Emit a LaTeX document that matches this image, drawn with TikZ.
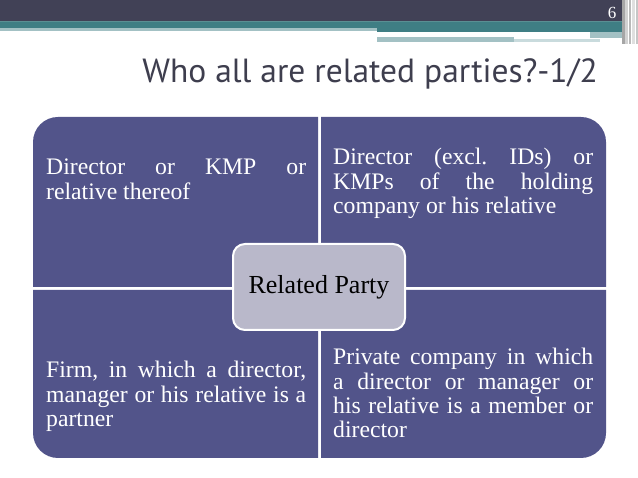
\documentclass[tikz,border=0pt]{standalone}
\usepackage{fontspec}
\setmainfont{Liberation Serif}
\newfontfamily\titlefont{PT Sans}
\definecolor{hdark}{HTML}{414156}
\definecolor{hteal}{HTML}{3F7E84}
\definecolor{hteallight}{HTML}{5A8F93}
\definecolor{hlteal}{HTML}{A3C1C4}
\definecolor{hvlteal}{HTML}{C9DBDD}
\definecolor{quad}{HTML}{52548A}
\definecolor{cbox}{HTML}{B9B8CA}
\definecolor{titlec}{HTML}{3E3E4E}
\newcommand\qfont{\fontsize{23.7}{24.3}\selectfont\frenchspacing\spaceskip=0.25em plus 3em minus 0em\hyphenpenalty=10000\exhyphenpenalty=10000\tolerance=10000}
\begin{document}
\begin{tikzpicture}[x=1pt,y=1pt,
  quadfill/.style={fill=quad},
  quadtext/.style={text=white, text width=260pt, align=justify, inner sep=0pt, font=\qfont, anchor=base west},
  centerbox/.style={fill=cbox, draw=white, line width=2pt, rounded corners=12pt, minimum width=172pt, minimum height=86pt, inner sep=0pt, font=\fontsize{26}{28}\selectfont}
]
\useasboundingbox (0,0) rectangle (638,478);
\fill[white] (0,0) rectangle (638,478);
% header
\fill[hdark] (0,478) rectangle (622,457);
\fill[hteal] (0,457) rectangle (622,450);
\fill[hteal] (377,450) rectangle (622,446);
\fill[hlteal] (0,450) rectangle (377,447);
\fill[hlteal] (590,446) rectangle (622,440);
\fill[hlteal] (377,441) rectangle (514,436);
\fill[hvlteal] (514,439) rectangle (600,436);
\fill[hteallight] (0,457) rectangle (622,456);
\fill[gray!70] (622,478) rectangle (625,434);
\fill[gray!35] (625,478) rectangle (628,434);
\fill[gray!55] (629,478) rectangle (631,434);
\fill[gray!25] (632,478) rectangle (635,434);
\fill[gray!45] (636,478) rectangle (638,434);
\node[text=white, font=\fontsize{17}{17}\selectfont, inner sep=0pt] (pnum) at (612,465) {6};
% title
\node[text=titlec, font=\titlefont\fontsize{33.5}{36}\selectfont, anchor=base east, inner sep=0pt] (title) at (598,395) {Who all are related parties?-1/2};
% quadrants
\fill[quadfill] (33,191) -- (33,336) arc[start angle=180, end angle=90, radius=25] -- (318,361) -- (318,191) -- cycle;
\fill[quadfill] (321,191) -- (321,361) -- (581,361) arc[start angle=90, end angle=0, radius=25] -- (606,191) -- cycle;
\fill[quadfill] (33,188) -- (318,188) -- (318,20) -- (58,20) arc[start angle=270, end angle=180, radius=25] -- cycle;
\fill[quadfill] (321,188) -- (606,188) -- (606,45) arc[start angle=0, end angle=-90, radius=25] -- (321,20) -- cycle;
% texts
\node[quadtext] (tl) at (46,303) {Director or KMP or\linebreak relative thereof};
\node[quadtext] (tr) at (333,313) {Director (excl. IDs) or\linebreak KMPs of the holding\linebreak company or his relative};
\node[quadtext] (bl) at (46,100) {Firm, in which a director,\linebreak manager or his relative is a\linebreak partner};
\node[quadtext] (br) at (333,113) {Private company in which\linebreak a director or manager or\linebreak his relative is a member or\linebreak director};
% center
\node[centerbox] (rp) at (319,191) {Related Party};
\end{tikzpicture}
\end{document}
